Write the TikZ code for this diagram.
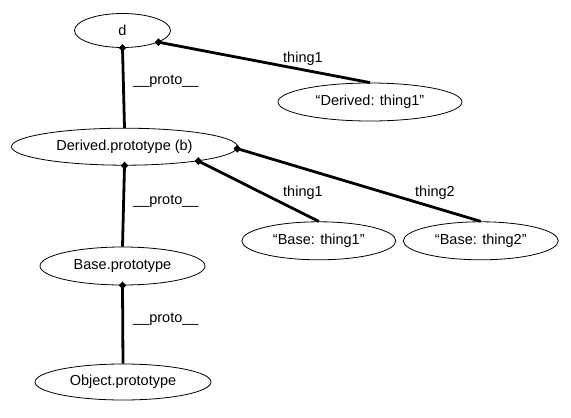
\documentclass[tikz,border=0pt]{standalone}
\usepackage{fontspec}
\setmainfont{Liberation Sans}
\usetikzlibrary{shapes.geometric}
\begin{document}
\begin{tikzpicture}[x=1pt,y=-1pt,
  obj/.style={draw=black,line width=0.8pt,ellipse,inner sep=0pt,font=\fontsize{14.5}{16}\selectfont},
  link/.style={line width=2.8pt,line cap=butt},
  dia/.style={diamond,fill=black,inner sep=0pt,minimum width=7.5pt,minimum height=8pt},
  lbl/.style={anchor=base west,inner sep=0pt,font=\fontsize{14.5}{16}\selectfont}]
\useasboundingbox (0,0) rectangle (571,418);
\node[obj,minimum width=96pt,minimum height=34pt] (d) at (122.5,30.5) {d};
\node[obj,minimum width=184pt,minimum height=38pt] (dt1) at (370,102) {``Derived: thing1''};
\node[obj,minimum width=226pt,minimum height=37pt] (der) at (124.5,146.7) {Derived.prototype (b)};
\node[obj,minimum width=154pt,minimum height=38pt] (bt1) at (318.8,240.8) {``Base: thing1''};
\node[obj,minimum width=155pt,minimum height=38pt] (bt2) at (480.8,240.8) {``Base: thing2''};
\node[obj,minimum width=165pt,minimum height=38pt] (base) at (122.5,266) {Base.prototype};
\node[obj,minimum width=176pt,minimum height=36pt] (objp) at (123,382) {Object.prototype};
% connectors
\draw[link] (d.south) -- (der.north);
\draw[link] (d.-18) -- (dt1.north);
\draw[link] (der.-1) -- (bt2.north);
\draw[link] (der.-11) -- (bt1.north);
\draw[link] (der.south) -- (base.north);
\draw[link] (base.south) -- (objp.north);
% diamonds
\node[dia] (m1) at (d.south) {};
\node[dia] (m2) at (d.-18) {};
\node[dia] (m3) at (der.-1) {};
\node[dia] (m4) at (der.-11) {};
\node[dia] (m5) at (der.south) {};
\node[dia] (m6) at (base.south) {};
% labels
\node[lbl] (l1) at (133,84) {\_\_proto\_\_};
\node[lbl] (l2) at (133,204.5) {\_\_proto\_\_};
\node[lbl] (l3) at (133,322) {\_\_proto\_\_};
\node[lbl] (l4) at (283,62) {thing1};
\node[lbl] (l5) at (283,196) {thing1};
\node[lbl] (l6) at (415,196) {thing2};
\end{tikzpicture}
\end{document}
